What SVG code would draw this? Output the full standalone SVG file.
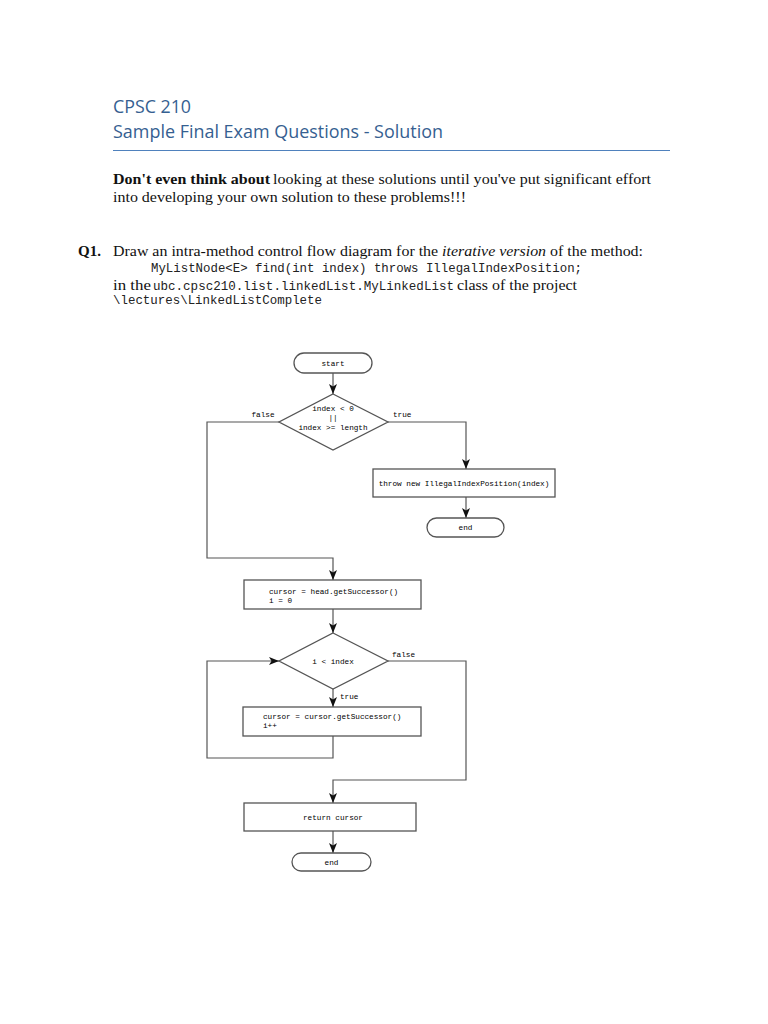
<svg xmlns="http://www.w3.org/2000/svg" width="768" height="1024" viewBox="0 0 768 1024">
<style>
.hd{font-family:"Open Sans","Liberation Sans",sans-serif;font-size:19px;fill:#365F91}
.bd{font-family:"Liberation Serif","DejaVu Serif",serif;font-size:15px;fill:#111}
.mo{font-family:"Liberation Mono","DejaVu Sans Mono",monospace;font-size:12.5px;fill:#222}
.fc{font-family:"Liberation Mono","DejaVu Sans Mono",monospace;font-size:7.7px;fill:#000}
.shape{fill:#fff;stroke:#555;stroke-width:1.3}
.conn{fill:none;stroke:#555;stroke-width:1.2}
</style>
<defs>
<marker id="arr" markerUnits="userSpaceOnUse" markerWidth="10" markerHeight="8" refX="10" refY="4" orient="auto">
<path d="M0,0 L10,4 L0,8 L2.5,4 z" fill="#111"/>
</marker>
</defs>
<rect width="768" height="1024" fill="#fff"/>

<g id="header">
<text class="hd" x="113" y="113" textLength="78" lengthAdjust="spacingAndGlyphs">CPSC 210</text>
<text class="hd" x="113" y="138" textLength="330" lengthAdjust="spacingAndGlyphs">Sample Final Exam Questions - Solution</text>
<line x1="113" y1="150.5" x2="670" y2="150.5" stroke="#4F81BD" stroke-width="1"/>
<text class="bd" x="113" y="184" font-weight="bold" textLength="157" lengthAdjust="spacingAndGlyphs">Don't even think about</text>
<text class="bd" x="273" y="184" textLength="378" lengthAdjust="spacingAndGlyphs">looking at these solutions until you've put significant effort</text>
<text class="bd" x="113" y="202" textLength="353" lengthAdjust="spacingAndGlyphs">into developing your own solution to these problems!!!</text>
<text class="bd" x="78" y="256" font-weight="bold">Q1.</text>
<text class="bd" x="113" y="256" textLength="530" lengthAdjust="spacingAndGlyphs">Draw an intra-method control flow diagram for the <tspan font-style="italic">iterative version</tspan> of the method:</text>
<text class="mo" x="151" y="272" textLength="431" lengthAdjust="spacingAndGlyphs">MyListNode&lt;E&gt; find(int index) throws IllegalIndexPosition;</text>
<text class="bd" x="113" y="290" textLength="38" lengthAdjust="spacingAndGlyphs">in the</text>
<text class="mo" x="153" y="290" textLength="301" lengthAdjust="spacingAndGlyphs">ubc.cpsc210.list.linkedList.MyLinkedList</text>
<text class="bd" x="457" y="290" textLength="120" lengthAdjust="spacingAndGlyphs">class of the project</text>
<text class="mo" x="113" y="304" textLength="209" lengthAdjust="spacingAndGlyphs">\lectures\LinkedListComplete</text>
</g>

<g id="connectors">
<path class="conn" d="M333,373 V394" marker-end="url(#arr)"/>
<path class="conn" d="M279,422 H207 V558 H333 V580" marker-end="url(#arr)"/>
<path class="conn" d="M388,422 H466 V469" marker-end="url(#arr)"/>
<path class="conn" d="M466,497 V518" marker-end="url(#arr)"/>
<path class="conn" d="M333,609 V633" marker-end="url(#arr)"/>
<path class="conn" d="M333,689 V707" marker-end="url(#arr)"/>
<path class="conn" d="M333,736 V758 H207 V661 H279" marker-end="url(#arr)"/>
<path class="conn" d="M388,661 H466 V780 H333 V803" marker-end="url(#arr)"/>
<path class="conn" d="M333,831 V853" marker-end="url(#arr)"/>
<text class="fc" x="263" y="417" text-anchor="middle">false</text>
<text class="fc" x="393" y="417">true</text>
<text class="fc" x="392" y="656.5">false</text>
<text class="fc" x="340" y="699">true</text>
</g>

<g id="start">
<rect class="shape" x="294" y="353" width="78" height="20" rx="10"/>
<text class="fc" x="333" y="365.5" text-anchor="middle">start</text>
</g>
<g id="check-index">
<polygon class="shape" points="333,394 388,422 333,450 279,422"/>
<text class="fc" x="333" y="410.5" text-anchor="middle">index &lt; 0</text>
<text class="fc" x="333" y="419.5" text-anchor="middle">||</text>
<text class="fc" x="333" y="429.5" text-anchor="middle">index &gt;= length</text>
</g>
<g id="throw">
<rect class="shape" x="373" y="469" width="182" height="28"/>
<text class="fc" x="464" y="486" text-anchor="middle">throw new IllegalIndexPosition(index)</text>
</g>
<g id="end1">
<rect class="shape" x="427" y="518" width="77" height="19" rx="9.5"/>
<text class="fc" x="465.5" y="530" text-anchor="middle">end</text>
</g>
<g id="init">
<rect class="shape" x="244" y="580" width="177" height="29"/>
<text class="fc" x="269" y="594">cursor = head.getSuccessor()</text>
<text class="fc" x="269" y="603">i = 0</text>
</g>
<g id="loop-check">
<polygon class="shape" points="333,633 388,661 333,689 279,661"/>
<text class="fc" x="333" y="663.5" text-anchor="middle">i &lt; index</text>
</g>
<g id="advance">
<rect class="shape" x="243" y="707" width="178" height="29"/>
<text class="fc" x="263" y="718.5">cursor = cursor.getSuccessor()</text>
<text class="fc" x="263" y="728">i++</text>
</g>
<g id="return">
<rect class="shape" x="244" y="803" width="172" height="28"/>
<text class="fc" x="333" y="819.5" text-anchor="middle">return cursor</text>
</g>
<g id="end2">
<rect class="shape" x="292" y="853" width="79" height="18" rx="9"/>
<text class="fc" x="331.5" y="864.5" text-anchor="middle">end</text>
</g>
</svg>
